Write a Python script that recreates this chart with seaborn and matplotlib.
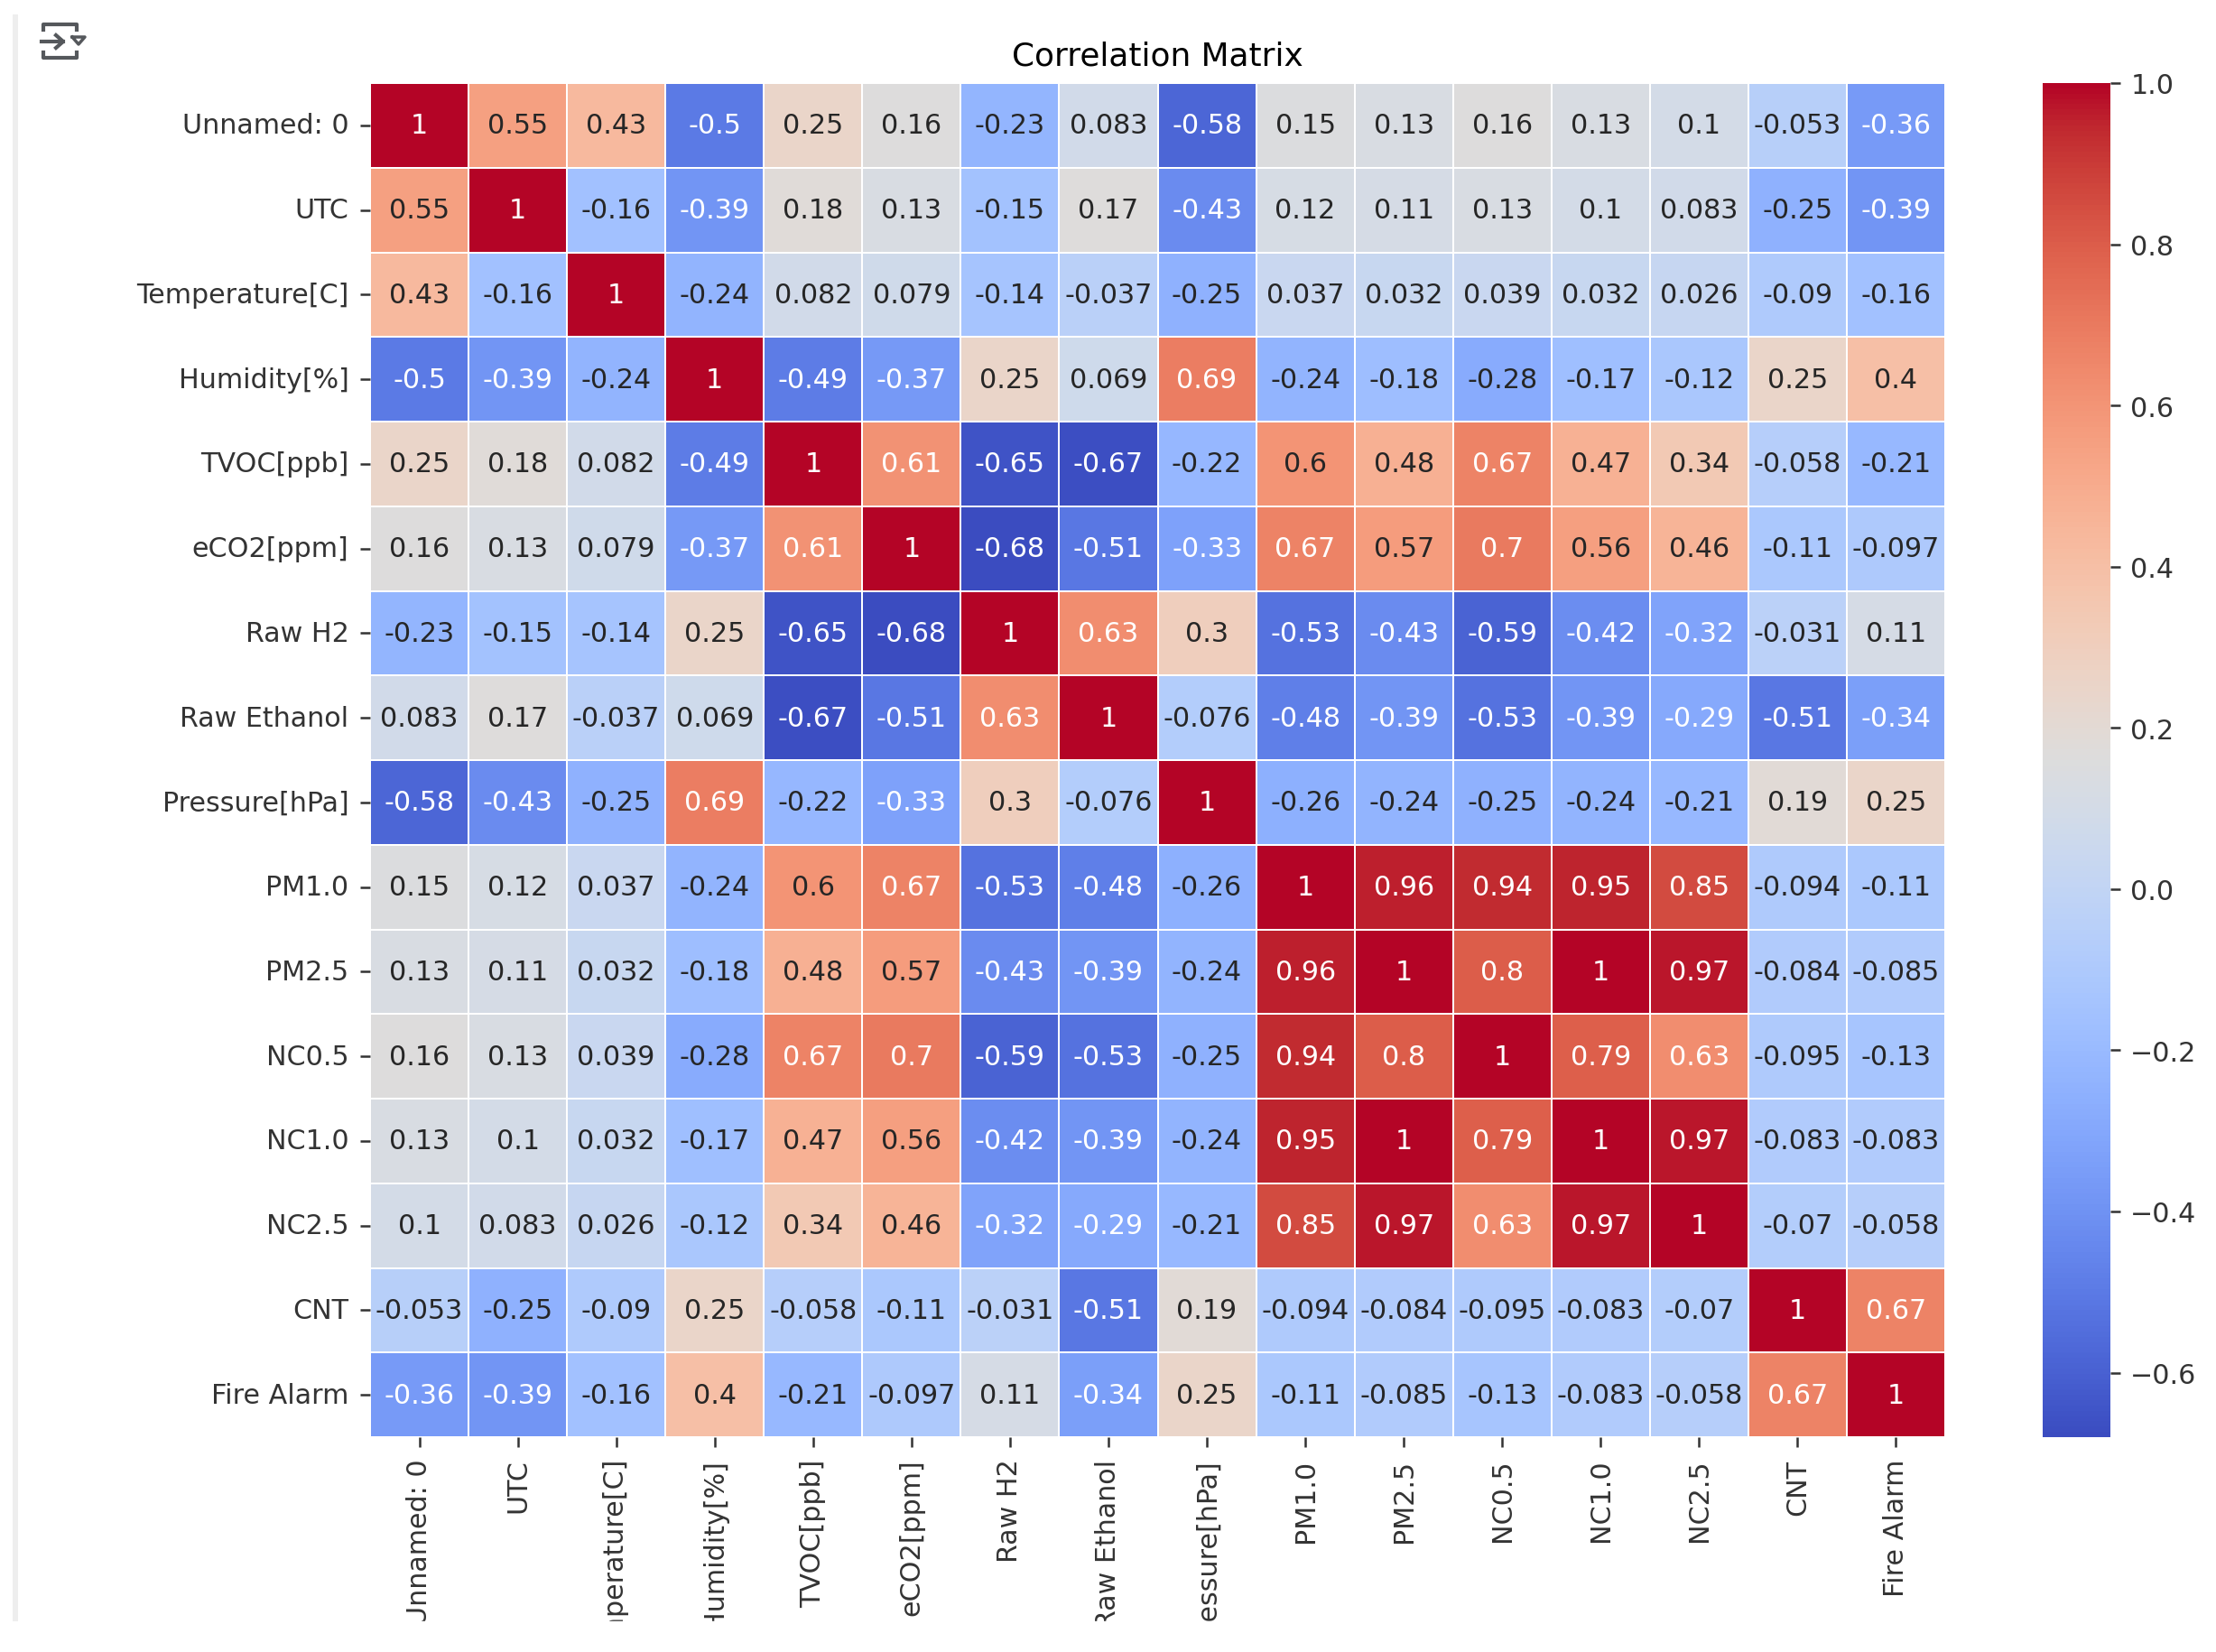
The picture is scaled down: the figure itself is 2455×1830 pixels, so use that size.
import numpy as np
import pandas as pd
import matplotlib
matplotlib.use("Agg")
import matplotlib.pyplot as plt
from matplotlib.lines import Line2D
from matplotlib.patches import Rectangle
import seaborn as sns

labels = ["Unnamed: 0", "UTC", "Temperature[C]", "Humidity[%]", "TVOC[ppb]", "eCO2[ppm]",
          "Raw H2", "Raw Ethanol", "Pressure[hPa]", "PM1.0", "PM2.5", "NC0.5", "NC1.0",
          "NC2.5", "CNT", "Fire Alarm"]

unnamed = [1, .55, .43, -.5, .25, .16, -.23, .083, -.58, .15, .13, .16, .13, .1, -.053, -.36]
utc = [.55, 1, -.16, -.39, .18, .13, -.15, .17, -.43, .12, .11, .13, .1, .083, -.25, -.39]
temperature = [.43, -.16, 1, -.24, .082, .079, -.14, -.037, -.25, .037, .032, .039, .032, .026, -.09, -.16]
humidity = [-.5, -.39, -.24, 1, -.49, -.37, .25, .069, .69, -.24, -.18, -.28, -.17, -.12, .25, .4]
tvoc = [.25, .18, .082, -.49, 1, .61, -.65, -.67, -.22, .6, .48, .67, .47, .34, -.058, -.21]
eco2 = [.16, .13, .079, -.37, .61, 1, -.68, -.51, -.33, .67, .57, .7, .56, .46, -.11, -.097]
raw_h2 = [-.23, -.15, -.14, .25, -.65, -.68, 1, .63, .3, -.53, -.43, -.59, -.42, -.32, -.031, .11]
raw_ethanol = [.083, .17, -.037, .069, -.67, -.51, .63, 1, -.076, -.48, -.39, -.53, -.39, -.29, -.51, -.34]
pressure = [-.58, -.43, -.25, .69, -.22, -.33, .3, -.076, 1, -.26, -.24, -.25, -.24, -.21, .19, .25]
pm10 = [.15, .12, .037, -.24, .6, .67, -.53, -.48, -.26, 1, .96, .94, .95, .85, -.094, -.11]
pm25 = [.13, .11, .032, -.18, .48, .57, -.43, -.39, -.24, .96, 1, .8, 1, .97, -.084, -.085]
nc05 = [.16, .13, .039, -.28, .67, .7, -.59, -.53, -.25, .94, .8, 1, .79, .63, -.095, -.13]
nc10 = [.13, .1, .032, -.17, .47, .56, -.42, -.39, -.24, .95, 1, .79, 1, .97, -.083, -.083]
nc25 = [.1, .083, .026, -.12, .34, .46, -.32, -.29, -.21, .85, .97, .63, .97, 1, -.07, -.058]
cnt = [-.053, -.25, -.09, .25, -.058, -.11, -.031, -.51, .19, -.094, -.084, -.095, -.083, -.07, 1, .67]
fire_alarm = [-.36, -.39, -.16, .4, -.21, -.097, .11, -.34, .25, -.11, -.085, -.13, -.083, -.058, .67, 1]

rows = [unnamed, utc, temperature, humidity, tvoc, eco2, raw_h2, raw_ethanol, pressure,
        pm10, pm25, nc05, nc10, nc25, cnt, fire_alarm]
corr = pd.DataFrame(rows, index=labels, columns=labels)

W, H = 2455, 1831
FS = 21.7
fig = plt.figure(figsize=(W / 100, H / 100), dpi=100)


def box(x0, y0, x1, y1):
    return [x0 / W, 1 - y1 / H, (x1 - x0) / W, (y1 - y0) / H]


ax = fig.add_axes(box(410, 93, 2155, 1593))
cax = fig.add_axes(box(2263, 93, 2338, 1593))
sns.heatmap(corr, annot=True, cmap="coolwarm", linewidths=1.2, ax=ax, cbar_ax=cax,
            annot_kws={"size": FS}, fmt=".2g")
ax.set_title("Correlation Matrix", fontsize=25.8, pad=15)
ax.tick_params(axis="both", labelsize=FS, length=8, width=1.8, color="#333333", pad=9, labelcolor="#333333")
ax.tick_params(axis="y", labelrotation=0)
ax.tick_params(axis="x", labelrotation=90)
cax.tick_params(labelsize=FS, length=8, width=1.8, color="#333333", pad=8, labelcolor="#333333")

# screenshot crop at the bottom and notebook chrome
fig.add_artist(Rectangle((0, 0), 1, 1 - 1797 / H, transform=fig.transFigure, color="white", zorder=20))
fig.add_artist(Rectangle((14 / W, 1 - 1797 / H), 6 / W, (1797 - 17) / H, transform=fig.transFigure,
                         color="#eeeeee", lw=0, zorder=20))


def stroke(xs, ys, lw=3):
    fig.add_artist(Line2D([x / W for x in xs], [1 - y / H for y in ys], color="#55585c",
                          lw=lw, transform=fig.transFigure, zorder=21))


stroke([48, 48, 85, 85], [34, 28, 28, 34])
stroke([48, 48, 85, 85], [59, 65, 65, 59])
stroke([46, 70], [47, 47])
stroke([62, 70, 62], [40, 47, 54])
stroke([80, 94, 87, 80], [42, 42, 50, 42], lw=2.5)

fig.savefig("out.png", dpi=100, facecolor="white")
